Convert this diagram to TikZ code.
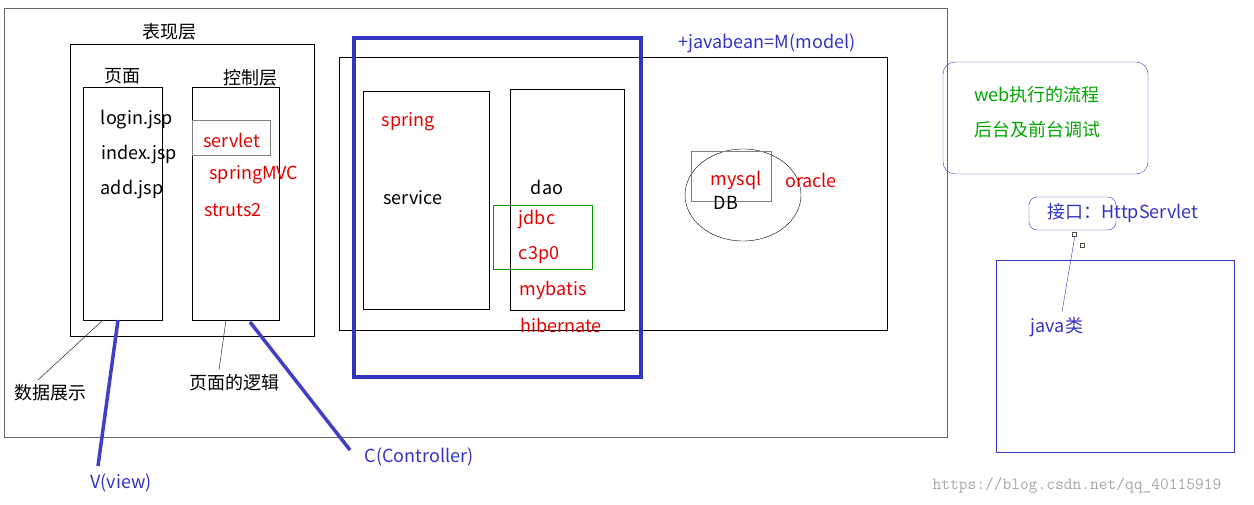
\documentclass[tikz,border=0pt]{standalone}
\usepackage{fontspec}
\setmainfont{Noto Sans CJK SC}
\begin{document}
\begin{tikzpicture}[x=1pt,y=-1pt,
    box/.style={draw=black},
    thinbox/.style={draw=black!50},
    bluebox/.style={draw=blue!70!black!80},
    txt/.style={font=\fontsize{18}{21}\selectfont, inner sep=0pt},
    red/.style={txt, text=red!90!black},
    blu/.style={txt, text=blue!70!black!80},
    grn/.style={txt, text=green!65!black},
    thick blue/.style={draw=blue!70!black!75, line width=3.5pt}]
    \useasboundingbox (0,0) rectangle (1254,505);
    % outer frame and layers
    \draw[draw=black!60] (4,8) rectangle (947,437);
    \draw[box] (70,44) rectangle (314,336);
    \node[txt] (layer) at (169,32) {表现层};
    \draw[box] (83,87) rectangle (162,320);
    \node[txt] (page) at (122,76) {页面};
    \draw[box] (192,87) rectangle (279,320);
    \node[txt] (ctrl) at (250,78) {控制层};
    \node[txt] (login) at (137,120) {login.jsp};
    \node[txt] (index) at (139,155) {index.jsp};
    \node[txt] (add) at (132,190) {add.jsp};
    \draw[thinbox] (192,120) rectangle (270,155);
    \node[red] (servlet) at (232,140) {servlet};
    \node[red] (mvc) at (254,175) {springMVC};
    \node[red] (struts) at (233,210) {struts2};

    % model part
    \draw[box] (339,57) rectangle (887,330);
    \node[blu] (model) at (767,43) {+javabean=M(model)};
    \draw[box] (363,91) rectangle (489,309);
    \node[red] (spring) at (408,122) {spring};
    \node[txt] (service) at (413,198) {service};
    \draw[box] (510,89) rectangle (624,310);
    \node[txt] (dao) at (547,187) {dao};
    \draw[draw=green!60!black] (493,205) rectangle (592,269);
    \node[red] (jdbc) at (537,220) {jdbc};
    \node[red] (c3p0) at (539,255) {c3p0};
    \node[red] (mybatis) at (553,290) {mybatis};
    \node[red] (hibernate) at (561,325) {hibernate};
    \draw[draw=blue!70!black!80, line width=3.5pt] (354,38) rectangle (641,377);
    \draw[box] (743,195) ellipse (58 and 46);
    \draw[thinbox] (691,151) rectangle (771,201);
    \node[red] (mysql) at (736,180) {mysql};
    \node[red] (oracle) at (811,180) {oracle};
    \node[txt] (db) at (726,203) {DB};

    % right side
    \draw[bluebox, rounded corners=12pt] (943,62) rectangle (1148,174);
    \node[grn] (flow) at (1037,95) {web执行的流程};
    \node[grn] (debug) at (1037,130) {后台及前台调试};
    \draw[bluebox, rounded corners=8pt] (1029,197) rectangle (1116,230);
    \node[blu] (iface) at (1123,213) {接口：HttpServlet};
    \draw[bluebox] (996,260) rectangle (1234,452);
    \node[blu] (javacls) at (1057,327) {java类};
    \coordinate (jtop) at (1075,235);
    \draw[bluebox] (1062,312) -- (jtop);
    \draw[draw=black!70, fill=white] (1072,232) rectangle (1076,236);
    \draw[draw=black!70, fill=white] (1080,243) rectangle (1084,247);

    % annotations
    \node[txt] (show) at (50,393) {数据展示};
    \node[txt] (logic) at (234,383) {页面的逻辑};
    \draw (38,380) -- (103,320);
    \draw (219,370) -- (226,320);
    \node[blu] (view) at (121,483) {V(view)};
    \node[blu] (controller) at (419,457) {C(Controller)};
    \draw[thick blue] (118,320) -- (98,466);
    \draw[thick blue] (250,322) -- (350,450);
    \node[txt, text=black!35, font=\ttfamily\fontsize{17}{19}\selectfont] (mark) at (1077,486) {https://blog.csdn.net/qq\_40115919};
\end{tikzpicture}
\end{document}
